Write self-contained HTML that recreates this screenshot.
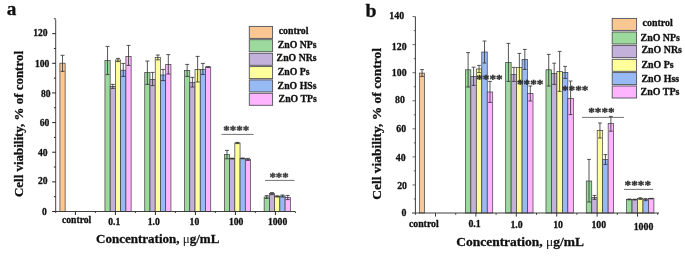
<!DOCTYPE html>
<html><head><meta charset="utf-8"><title>Cell viability</title>
<style>
html,body{margin:0;padding:0;background:#fff}
svg{display:block;font-family:"Liberation Serif","Times New Roman",serif;font-weight:bold;fill:#111}
text{stroke:#111;stroke-width:.3px;stroke-linejoin:round}
</style></head><body>
<svg width="685" height="258" viewBox="0 0 685 258">
<rect x="0" y="0" width="685" height="258" fill="#fff"/>
<rect x="59.90" y="63.20" width="5.24" height="148.30" fill="#FAC792" stroke="#3c3c3c" stroke-width="0.7"/>
<rect x="104.94" y="60.40" width="5.24" height="151.10" fill="#9BDA9C" stroke="#3c3c3c" stroke-width="0.7"/>
<rect x="110.18" y="86.40" width="5.24" height="125.10" fill="#C4B1DB" stroke="#3c3c3c" stroke-width="0.7"/>
<rect x="115.42" y="60.00" width="5.24" height="151.50" fill="#FFFF9C" stroke="#3c3c3c" stroke-width="0.7"/>
<rect x="120.66" y="70.20" width="5.24" height="141.30" fill="#98BAF4" stroke="#3c3c3c" stroke-width="0.7"/>
<rect x="125.90" y="56.40" width="5.24" height="155.10" fill="#FFB4FF" stroke="#3c3c3c" stroke-width="0.7"/>
<rect x="144.74" y="72.60" width="5.24" height="138.90" fill="#9BDA9C" stroke="#3c3c3c" stroke-width="0.7"/>
<rect x="149.98" y="79.40" width="5.24" height="132.10" fill="#C4B1DB" stroke="#3c3c3c" stroke-width="0.7"/>
<rect x="155.22" y="57.40" width="5.24" height="154.10" fill="#FFFF9C" stroke="#3c3c3c" stroke-width="0.7"/>
<rect x="160.46" y="75.00" width="5.24" height="136.50" fill="#98BAF4" stroke="#3c3c3c" stroke-width="0.7"/>
<rect x="165.70" y="64.40" width="5.24" height="147.10" fill="#FFB4FF" stroke="#3c3c3c" stroke-width="0.7"/>
<rect x="184.54" y="70.40" width="5.24" height="141.10" fill="#9BDA9C" stroke="#3c3c3c" stroke-width="0.7"/>
<rect x="189.78" y="82.40" width="5.24" height="129.10" fill="#C4B1DB" stroke="#3c3c3c" stroke-width="0.7"/>
<rect x="195.02" y="69.40" width="5.24" height="142.10" fill="#FFFF9C" stroke="#3c3c3c" stroke-width="0.7"/>
<rect x="200.26" y="69.40" width="5.24" height="142.10" fill="#98BAF4" stroke="#3c3c3c" stroke-width="0.7"/>
<rect x="205.50" y="67.00" width="5.24" height="144.50" fill="#FFB4FF" stroke="#3c3c3c" stroke-width="0.7"/>
<rect x="224.34" y="154.60" width="5.24" height="56.90" fill="#9BDA9C" stroke="#3c3c3c" stroke-width="0.7"/>
<rect x="229.58" y="158.60" width="5.24" height="52.90" fill="#C4B1DB" stroke="#3c3c3c" stroke-width="0.7"/>
<rect x="234.82" y="143.00" width="5.24" height="68.50" fill="#FFFF9C" stroke="#3c3c3c" stroke-width="0.7"/>
<rect x="240.06" y="158.40" width="5.24" height="53.10" fill="#98BAF4" stroke="#3c3c3c" stroke-width="0.7"/>
<rect x="245.30" y="159.40" width="5.24" height="52.10" fill="#FFB4FF" stroke="#3c3c3c" stroke-width="0.7"/>
<rect x="264.14" y="197.00" width="5.24" height="14.50" fill="#9BDA9C" stroke="#3c3c3c" stroke-width="0.7"/>
<rect x="269.38" y="193.60" width="5.24" height="17.90" fill="#C4B1DB" stroke="#3c3c3c" stroke-width="0.7"/>
<rect x="274.62" y="196.40" width="5.24" height="15.10" fill="#FFFF9C" stroke="#3c3c3c" stroke-width="0.7"/>
<rect x="279.86" y="196.00" width="5.24" height="15.50" fill="#98BAF4" stroke="#3c3c3c" stroke-width="0.7"/>
<rect x="285.10" y="197.60" width="5.24" height="13.90" fill="#FFB4FF" stroke="#3c3c3c" stroke-width="0.7"/>
<path d="M62.52 55.30V71.40M60.52 55.30h4M60.52 71.40h4" stroke="#2c2c2c" stroke-width="0.8" fill="none"/>
<path d="M107.56 46.40V74.60M105.56 46.40h4M105.56 74.60h4" stroke="#2c2c2c" stroke-width="0.8" fill="none"/>
<path d="M112.80 84.40V88.40M110.80 84.40h4M110.80 88.40h4" stroke="#2c2c2c" stroke-width="0.8" fill="none"/>
<path d="M118.04 58.40V61.60M116.04 58.40h4M116.04 61.60h4" stroke="#2c2c2c" stroke-width="0.8" fill="none"/>
<path d="M123.28 63.40V76.40M121.28 63.40h4M121.28 76.40h4" stroke="#2c2c2c" stroke-width="0.8" fill="none"/>
<path d="M128.52 45.40V65.40M126.52 45.40h4M126.52 65.40h4" stroke="#2c2c2c" stroke-width="0.8" fill="none"/>
<path d="M147.36 61.00V84.40M145.36 61.00h4M145.36 84.40h4" stroke="#2c2c2c" stroke-width="0.8" fill="none"/>
<path d="M152.60 72.40V85.60M150.60 72.40h4M150.60 85.60h4" stroke="#2c2c2c" stroke-width="0.8" fill="none"/>
<path d="M157.84 55.00V59.80M155.84 55.00h4M155.84 59.80h4" stroke="#2c2c2c" stroke-width="0.8" fill="none"/>
<path d="M163.08 69.40V80.60M161.08 69.40h4M161.08 80.60h4" stroke="#2c2c2c" stroke-width="0.8" fill="none"/>
<path d="M168.32 54.60V74.00M166.32 54.60h4M166.32 74.00h4" stroke="#2c2c2c" stroke-width="0.8" fill="none"/>
<path d="M187.16 64.40V76.40M185.16 64.40h4M185.16 76.40h4" stroke="#2c2c2c" stroke-width="0.8" fill="none"/>
<path d="M192.40 77.40V87.00M190.40 77.40h4M190.40 87.00h4" stroke="#2c2c2c" stroke-width="0.8" fill="none"/>
<path d="M197.64 56.40V82.00M195.64 56.40h4M195.64 82.00h4" stroke="#2c2c2c" stroke-width="0.8" fill="none"/>
<path d="M202.88 63.40V74.40M200.88 63.40h4M200.88 74.40h4" stroke="#2c2c2c" stroke-width="0.8" fill="none"/>
<path d="M208.12 66.70V67.30M206.12 66.70h4M206.12 67.30h4" stroke="#2c2c2c" stroke-width="0.8" fill="none"/>
<path d="M226.96 150.40V158.80M224.96 150.40h4M224.96 158.80h4" stroke="#2c2c2c" stroke-width="0.8" fill="none"/>
<path d="M232.20 158.20V159.00M230.20 158.20h4M230.20 159.00h4" stroke="#2c2c2c" stroke-width="0.8" fill="none"/>
<path d="M237.44 142.40V143.60M235.44 142.40h4M235.44 143.60h4" stroke="#2c2c2c" stroke-width="0.8" fill="none"/>
<path d="M242.68 158.00V158.80M240.68 158.00h4M240.68 158.80h4" stroke="#2c2c2c" stroke-width="0.8" fill="none"/>
<path d="M247.92 158.40V160.40M245.92 158.40h4M245.92 160.40h4" stroke="#2c2c2c" stroke-width="0.8" fill="none"/>
<path d="M266.76 195.60V198.40M264.76 195.60h4M264.76 198.40h4" stroke="#2c2c2c" stroke-width="0.8" fill="none"/>
<path d="M272.00 192.60V194.60M270.00 192.60h4M270.00 194.60h4" stroke="#2c2c2c" stroke-width="0.8" fill="none"/>
<path d="M277.24 195.80V197.00M275.24 195.80h4M275.24 197.00h4" stroke="#2c2c2c" stroke-width="0.8" fill="none"/>
<path d="M282.48 195.00V197.00M280.48 195.00h4M280.48 197.00h4" stroke="#2c2c2c" stroke-width="0.8" fill="none"/>
<path d="M287.72 195.40V199.60M285.72 195.40h4M285.72 199.60h4" stroke="#2c2c2c" stroke-width="0.8" fill="none"/>
<path d="M55.7 19.4V211.5H295.2" stroke="#383838" stroke-width="0.95" fill="none"/>
<path d="M55.7 211.50h-3.5M55.7 196.68h-1.8M55.7 181.86h-3.5M55.7 167.04h-1.8M55.7 152.22h-3.5M55.7 137.40h-1.8M55.7 122.58h-3.5M55.7 107.76h-1.8M55.7 92.94h-3.5M55.7 78.12h-1.8M55.7 63.30h-3.5M55.7 48.48h-1.8M55.7 33.66h-3.5M55.7 18.84h-1.8M75.40 211.5v3.5M95.40 211.5v1.4M115.40 211.5v3.5M135.40 211.5v1.4M155.40 211.5v3.5M175.40 211.5v1.4M195.40 211.5v3.5M215.40 211.5v1.4M235.40 211.5v3.5M255.40 211.5v1.4M275.40 211.5v3.5M295.40 211.5v1.4M55.7 211.5v1.4" stroke="#222" stroke-width="1" fill="none"/>
<text x="46.80" y="215.05" font-size="9.6" text-anchor="end">0</text>
<text x="47.60" y="184.16" font-size="9.6" text-anchor="end">20</text>
<text x="47.50" y="155.92" font-size="9.6" text-anchor="end">40</text>
<text x="49.40" y="125.58" font-size="9.6" text-anchor="end">60</text>
<text x="50.50" y="96.54" font-size="9.6" text-anchor="end">80</text>
<text x="49.40" y="66.60" font-size="9.6" text-anchor="end">100</text>
<text x="47.60" y="35.86" font-size="9.6" text-anchor="end">120</text>
<text x="76.65" y="223.4" font-size="9.65" text-anchor="middle">control</text>
<text x="114.2" y="224.8" font-size="9.65" text-anchor="middle">0.1</text>
<text x="153.75" y="225.0" font-size="9.65" text-anchor="middle">1.0</text>
<text x="194.4" y="224.8" font-size="9.65" text-anchor="middle">10</text>
<text x="236.1" y="225.0" font-size="9.65" text-anchor="middle">100</text>
<text x="277.6" y="225.4" font-size="9.65" text-anchor="middle">1000</text>
<text x="157.7" y="242.9" font-size="13.03" text-anchor="middle">Concentration, <tspan font-weight="normal" stroke="none">μ</tspan>g/mL</text>
<text transform="translate(22.8 124.0) rotate(-90)" font-size="12.95" text-anchor="middle">Cell viability, % of control</text>
<text x="6.7" y="15.2" font-size="19.2">a</text>
<rect x="249.3" y="26.4" width="23.3" height="12" fill="#FAC792" stroke="#505058" stroke-width="0.9"/>
<text x="278.7" y="34.2" font-size="9.8">control</text>
<rect x="249.3" y="39.7" width="23.3" height="12" fill="#9BDA9C" stroke="#505058" stroke-width="0.9"/>
<text x="277.7" y="48.3" font-size="9.8">ZnO NPs</text>
<rect x="249.3" y="53.3" width="23.3" height="12" fill="#C4B1DB" stroke="#505058" stroke-width="0.9"/>
<text x="276.6" y="61" font-size="9.8">ZnO NRs</text>
<rect x="249.3" y="66.6" width="23.3" height="12" fill="#FFFF9C" stroke="#505058" stroke-width="0.9"/>
<text x="277.7" y="74.6" font-size="9.8">ZnO Ps</text>
<rect x="249.3" y="79.9" width="23.3" height="12" fill="#98BAF4" stroke="#505058" stroke-width="0.9"/>
<text x="277.6" y="89.0" font-size="9.8">ZnO HSs</text>
<rect x="249.3" y="93.3" width="23.3" height="12" fill="#FFB4FF" stroke="#505058" stroke-width="0.9"/>
<text x="278.6" y="102.3" font-size="9.8">ZnO TPs</text>
<text x="223.2" y="134.0" font-size="13.0" font-weight="bold" stroke="none" fill="#4a4a4a">****</text>
<path d="M221.6 134.4H253.6" stroke="#3a3a3a" stroke-width="0.7"/>
<text x="269.4" y="180.6" font-size="12.9" font-weight="bold" stroke="none" fill="#4a4a4a">***</text>
<path d="M265 180.4H294.6" stroke="#3a3a3a" stroke-width="0.7"/>
<rect x="419.60" y="73.10" width="4.90" height="139.90" fill="#FAC792" stroke="#3c3c3c" stroke-width="0.7"/>
<rect x="465.37" y="69.80" width="5.47" height="143.20" fill="#9BDA9C" stroke="#3c3c3c" stroke-width="0.7"/>
<rect x="470.84" y="76.40" width="5.47" height="136.60" fill="#C4B1DB" stroke="#3c3c3c" stroke-width="0.7"/>
<rect x="476.31" y="69.00" width="5.47" height="144.00" fill="#FFFF9C" stroke="#3c3c3c" stroke-width="0.7"/>
<rect x="481.78" y="52.00" width="5.47" height="161.00" fill="#98BAF4" stroke="#3c3c3c" stroke-width="0.7"/>
<rect x="487.25" y="92.00" width="5.47" height="121.00" fill="#FFB4FF" stroke="#3c3c3c" stroke-width="0.7"/>
<rect x="505.67" y="62.40" width="5.47" height="150.60" fill="#9BDA9C" stroke="#3c3c3c" stroke-width="0.7"/>
<rect x="511.14" y="74.40" width="5.47" height="138.60" fill="#C4B1DB" stroke="#3c3c3c" stroke-width="0.7"/>
<rect x="516.61" y="67.40" width="5.47" height="145.60" fill="#FFFF9C" stroke="#3c3c3c" stroke-width="0.7"/>
<rect x="522.08" y="59.40" width="5.47" height="153.60" fill="#98BAF4" stroke="#3c3c3c" stroke-width="0.7"/>
<rect x="527.55" y="93.40" width="5.47" height="119.60" fill="#FFB4FF" stroke="#3c3c3c" stroke-width="0.7"/>
<rect x="545.97" y="69.80" width="5.47" height="143.20" fill="#9BDA9C" stroke="#3c3c3c" stroke-width="0.7"/>
<rect x="551.44" y="73.40" width="5.47" height="139.60" fill="#C4B1DB" stroke="#3c3c3c" stroke-width="0.7"/>
<rect x="556.91" y="71.60" width="5.47" height="141.40" fill="#FFFF9C" stroke="#3c3c3c" stroke-width="0.7"/>
<rect x="562.38" y="72.40" width="5.47" height="140.60" fill="#98BAF4" stroke="#3c3c3c" stroke-width="0.7"/>
<rect x="567.85" y="98.40" width="5.47" height="114.60" fill="#FFB4FF" stroke="#3c3c3c" stroke-width="0.7"/>
<rect x="586.27" y="181.00" width="5.47" height="32.00" fill="#9BDA9C" stroke="#3c3c3c" stroke-width="0.7"/>
<rect x="591.74" y="197.40" width="5.47" height="15.60" fill="#C4B1DB" stroke="#3c3c3c" stroke-width="0.7"/>
<rect x="597.21" y="130.60" width="5.47" height="82.40" fill="#FFFF9C" stroke="#3c3c3c" stroke-width="0.7"/>
<rect x="602.68" y="159.50" width="5.47" height="53.50" fill="#98BAF4" stroke="#3c3c3c" stroke-width="0.7"/>
<rect x="608.15" y="123.60" width="5.47" height="89.40" fill="#FFB4FF" stroke="#3c3c3c" stroke-width="0.7"/>
<rect x="626.57" y="199.40" width="5.47" height="13.60" fill="#9BDA9C" stroke="#3c3c3c" stroke-width="0.7"/>
<rect x="632.04" y="199.60" width="5.47" height="13.40" fill="#C4B1DB" stroke="#3c3c3c" stroke-width="0.7"/>
<rect x="637.51" y="198.60" width="5.47" height="14.40" fill="#FFFF9C" stroke="#3c3c3c" stroke-width="0.7"/>
<rect x="642.98" y="199.60" width="5.47" height="13.40" fill="#98BAF4" stroke="#3c3c3c" stroke-width="0.7"/>
<rect x="648.45" y="198.60" width="5.47" height="14.40" fill="#FFB4FF" stroke="#3c3c3c" stroke-width="0.7"/>
<path d="M422.05 69.60V76.40M420.15 69.60h3.8M420.15 76.40h3.8" stroke="#2c2c2c" stroke-width="0.8" fill="none"/>
<path d="M468.11 52.60V87.00M466.21 52.60h3.8M466.21 87.00h3.8" stroke="#2c2c2c" stroke-width="0.8" fill="none"/>
<path d="M473.58 67.20V85.40M471.68 67.20h3.8M471.68 85.40h3.8" stroke="#2c2c2c" stroke-width="0.8" fill="none"/>
<path d="M479.05 65.40V72.60M477.15 65.40h3.8M477.15 72.60h3.8" stroke="#2c2c2c" stroke-width="0.8" fill="none"/>
<path d="M484.52 41.00V63.00M482.62 41.00h3.8M482.62 63.00h3.8" stroke="#2c2c2c" stroke-width="0.8" fill="none"/>
<path d="M489.99 81.40V102.40M488.09 81.40h3.8M488.09 102.40h3.8" stroke="#2c2c2c" stroke-width="0.8" fill="none"/>
<path d="M508.41 43.40V81.40M506.51 43.40h3.8M506.51 81.40h3.8" stroke="#2c2c2c" stroke-width="0.8" fill="none"/>
<path d="M513.88 67.40V81.40M511.98 67.40h3.8M511.98 81.40h3.8" stroke="#2c2c2c" stroke-width="0.8" fill="none"/>
<path d="M519.35 53.40V81.40M517.45 53.40h3.8M517.45 81.40h3.8" stroke="#2c2c2c" stroke-width="0.8" fill="none"/>
<path d="M524.82 49.40V69.40M522.92 49.40h3.8M522.92 69.40h3.8" stroke="#2c2c2c" stroke-width="0.8" fill="none"/>
<path d="M530.29 86.00V101.00M528.39 86.00h3.8M528.39 101.00h3.8" stroke="#2c2c2c" stroke-width="0.8" fill="none"/>
<path d="M548.71 54.40V86.00M546.81 54.40h3.8M546.81 86.00h3.8" stroke="#2c2c2c" stroke-width="0.8" fill="none"/>
<path d="M554.18 63.20V84.40M552.28 63.20h3.8M552.28 84.40h3.8" stroke="#2c2c2c" stroke-width="0.8" fill="none"/>
<path d="M559.64 51.40V91.40M557.75 51.40h3.8M557.75 91.40h3.8" stroke="#2c2c2c" stroke-width="0.8" fill="none"/>
<path d="M565.12 66.40V78.40M563.22 66.40h3.8M563.22 78.40h3.8" stroke="#2c2c2c" stroke-width="0.8" fill="none"/>
<path d="M570.59 81.00V114.60M568.69 81.00h3.8M568.69 114.60h3.8" stroke="#2c2c2c" stroke-width="0.8" fill="none"/>
<path d="M589.01 159.40V202.00M587.11 159.40h3.8M587.11 202.00h3.8" stroke="#2c2c2c" stroke-width="0.8" fill="none"/>
<path d="M594.48 195.40V199.40M592.58 195.40h3.8M592.58 199.40h3.8" stroke="#2c2c2c" stroke-width="0.8" fill="none"/>
<path d="M599.95 123.00V138.00M598.05 123.00h3.8M598.05 138.00h3.8" stroke="#2c2c2c" stroke-width="0.8" fill="none"/>
<path d="M605.42 154.60V164.40M603.52 154.60h3.8M603.52 164.40h3.8" stroke="#2c2c2c" stroke-width="0.8" fill="none"/>
<path d="M610.89 116.40V131.20M608.99 116.40h3.8M608.99 131.20h3.8" stroke="#2c2c2c" stroke-width="0.8" fill="none"/>
<path d="M629.31 199.00V199.80M627.41 199.00h3.8M627.41 199.80h3.8" stroke="#2c2c2c" stroke-width="0.8" fill="none"/>
<path d="M634.78 199.20V200.00M632.88 199.20h3.8M632.88 200.00h3.8" stroke="#2c2c2c" stroke-width="0.8" fill="none"/>
<path d="M640.25 197.80V199.40M638.35 197.80h3.8M638.35 199.40h3.8" stroke="#2c2c2c" stroke-width="0.8" fill="none"/>
<path d="M645.72 198.60V200.60M643.82 198.60h3.8M643.82 200.60h3.8" stroke="#2c2c2c" stroke-width="0.8" fill="none"/>
<path d="M651.19 198.30V198.90M649.29 198.30h3.8M649.29 198.90h3.8" stroke="#2c2c2c" stroke-width="0.8" fill="none"/>
<path d="M415.4 16.6V213.0H659" stroke="#333" stroke-width="0.95" fill="none"/>
<path d="M415.4 198.97h-1.6M415.4 184.94h-2.9M415.4 170.91h-1.6M415.4 156.88h-2.9M415.4 142.85h-1.6M415.4 128.82h-2.9M415.4 114.79h-1.6M415.4 100.76h-2.9M415.4 86.73h-1.6M415.4 72.70h-2.9M415.4 58.67h-1.6M415.4 44.64h-2.9M415.4 30.61h-1.6M415.4 16.58h-2.9" stroke="#3a3a3a" stroke-width="0.75" fill="none"/>
<path d="M415.4 213.0h-3.4M435.50 213.0v3.6M455.70 213.0v1.8M475.90 213.0v3.6M496.10 213.0v1.8M516.30 213.0v3.6M536.50 213.0v1.8M556.70 213.0v3.6M576.90 213.0v1.8M597.10 213.0v3.6M617.30 213.0v1.8M637.50 213.0v3.6M657.70 213.0v1.8M415.4 213.0v1.8" stroke="#333" stroke-width="0.95" fill="none"/>
<text x="404.1" y="19.20" font-size="9.85" text-anchor="end">140</text>
<text x="406.6" y="49.50" font-size="9.85" text-anchor="end">120</text>
<text x="406.6" y="75.70" font-size="9.85" text-anchor="end">100</text>
<text x="404.8" y="103.10" font-size="9.85" text-anchor="end">80</text>
<text x="406.1" y="131.80" font-size="9.85" text-anchor="end">60</text>
<text x="405.6" y="160.80" font-size="9.85" text-anchor="end">40</text>
<text x="407.0" y="189.05" font-size="9.85" text-anchor="end">20</text>
<text x="406.4" y="216.40" font-size="9.85" text-anchor="end">0</text>
<text x="423.80" y="227" font-size="9.8" text-anchor="middle">control</text>
<text x="474.60" y="227.4" font-size="9.8" text-anchor="middle">0.1</text>
<text x="516.60" y="228" font-size="9.8" text-anchor="middle">1.0</text>
<text x="558.10" y="228" font-size="9.8" text-anchor="middle">10</text>
<text x="598.80" y="227.6" font-size="9.8" text-anchor="middle">100</text>
<text x="643.50" y="229.6" font-size="9.8" text-anchor="middle">1000</text>
<text x="520.1" y="246" font-size="13.47" text-anchor="middle">Concentration, <tspan font-weight="normal" stroke="none">μ</tspan>g/mL</text>
<text transform="translate(381.2 123.9) rotate(-90)" font-size="13.45" text-anchor="middle">Cell viability, % of control</text>
<text x="365.4" y="17.2" font-size="19.8">b</text>
<rect x="612.2" y="18.4" width="24.4" height="12" fill="#FAC792" stroke="#505058" stroke-width="0.9"/>
<text x="642.5" y="26" font-size="9.95">control</text>
<rect x="612.2" y="32" width="24.4" height="12" fill="#9BDA9C" stroke="#505058" stroke-width="0.9"/>
<text x="640.5" y="41.4" font-size="9.95">ZnO NPs</text>
<rect x="612.2" y="45.6" width="24.4" height="12" fill="#C4B1DB" stroke="#505058" stroke-width="0.9"/>
<text x="641.4" y="53.3" font-size="9.95">ZnO NRs</text>
<rect x="612.2" y="59.3" width="24.4" height="12" fill="#FFFF9C" stroke="#505058" stroke-width="0.9"/>
<text x="641.4" y="68.2" font-size="9.95">ZnO Ps</text>
<rect x="612.2" y="72.6" width="24.4" height="12" fill="#98BAF4" stroke="#505058" stroke-width="0.9"/>
<text x="641.4" y="81.8" font-size="9.95">ZnO Hss</text>
<rect x="612.2" y="86" width="24.4" height="12" fill="#FFB4FF" stroke="#505058" stroke-width="0.9"/>
<text x="640.6" y="94.8" font-size="9.95">ZnO TPs</text>
<text x="476.2" y="82.5" font-size="13.2" font-weight="bold" stroke="none" fill="#363636">****</text>
<text x="517.0" y="88.3" font-size="13.2" font-weight="bold" stroke="none" fill="#363636">****</text>
<text x="562.0" y="93.7" font-size="13.2" font-weight="bold" stroke="none" fill="#363636">****</text>
<text x="588.2" y="115.6" font-size="13.2" font-weight="bold" stroke="none" fill="#363636">****</text>
<text x="624.6" y="189.0" font-size="13.2" font-weight="bold" stroke="none" fill="#363636">****</text>
<path d="M582 117.4H624M624 189.4H653" stroke="#3a3a3a" stroke-width="0.7"/>
</svg>
</body></html>
